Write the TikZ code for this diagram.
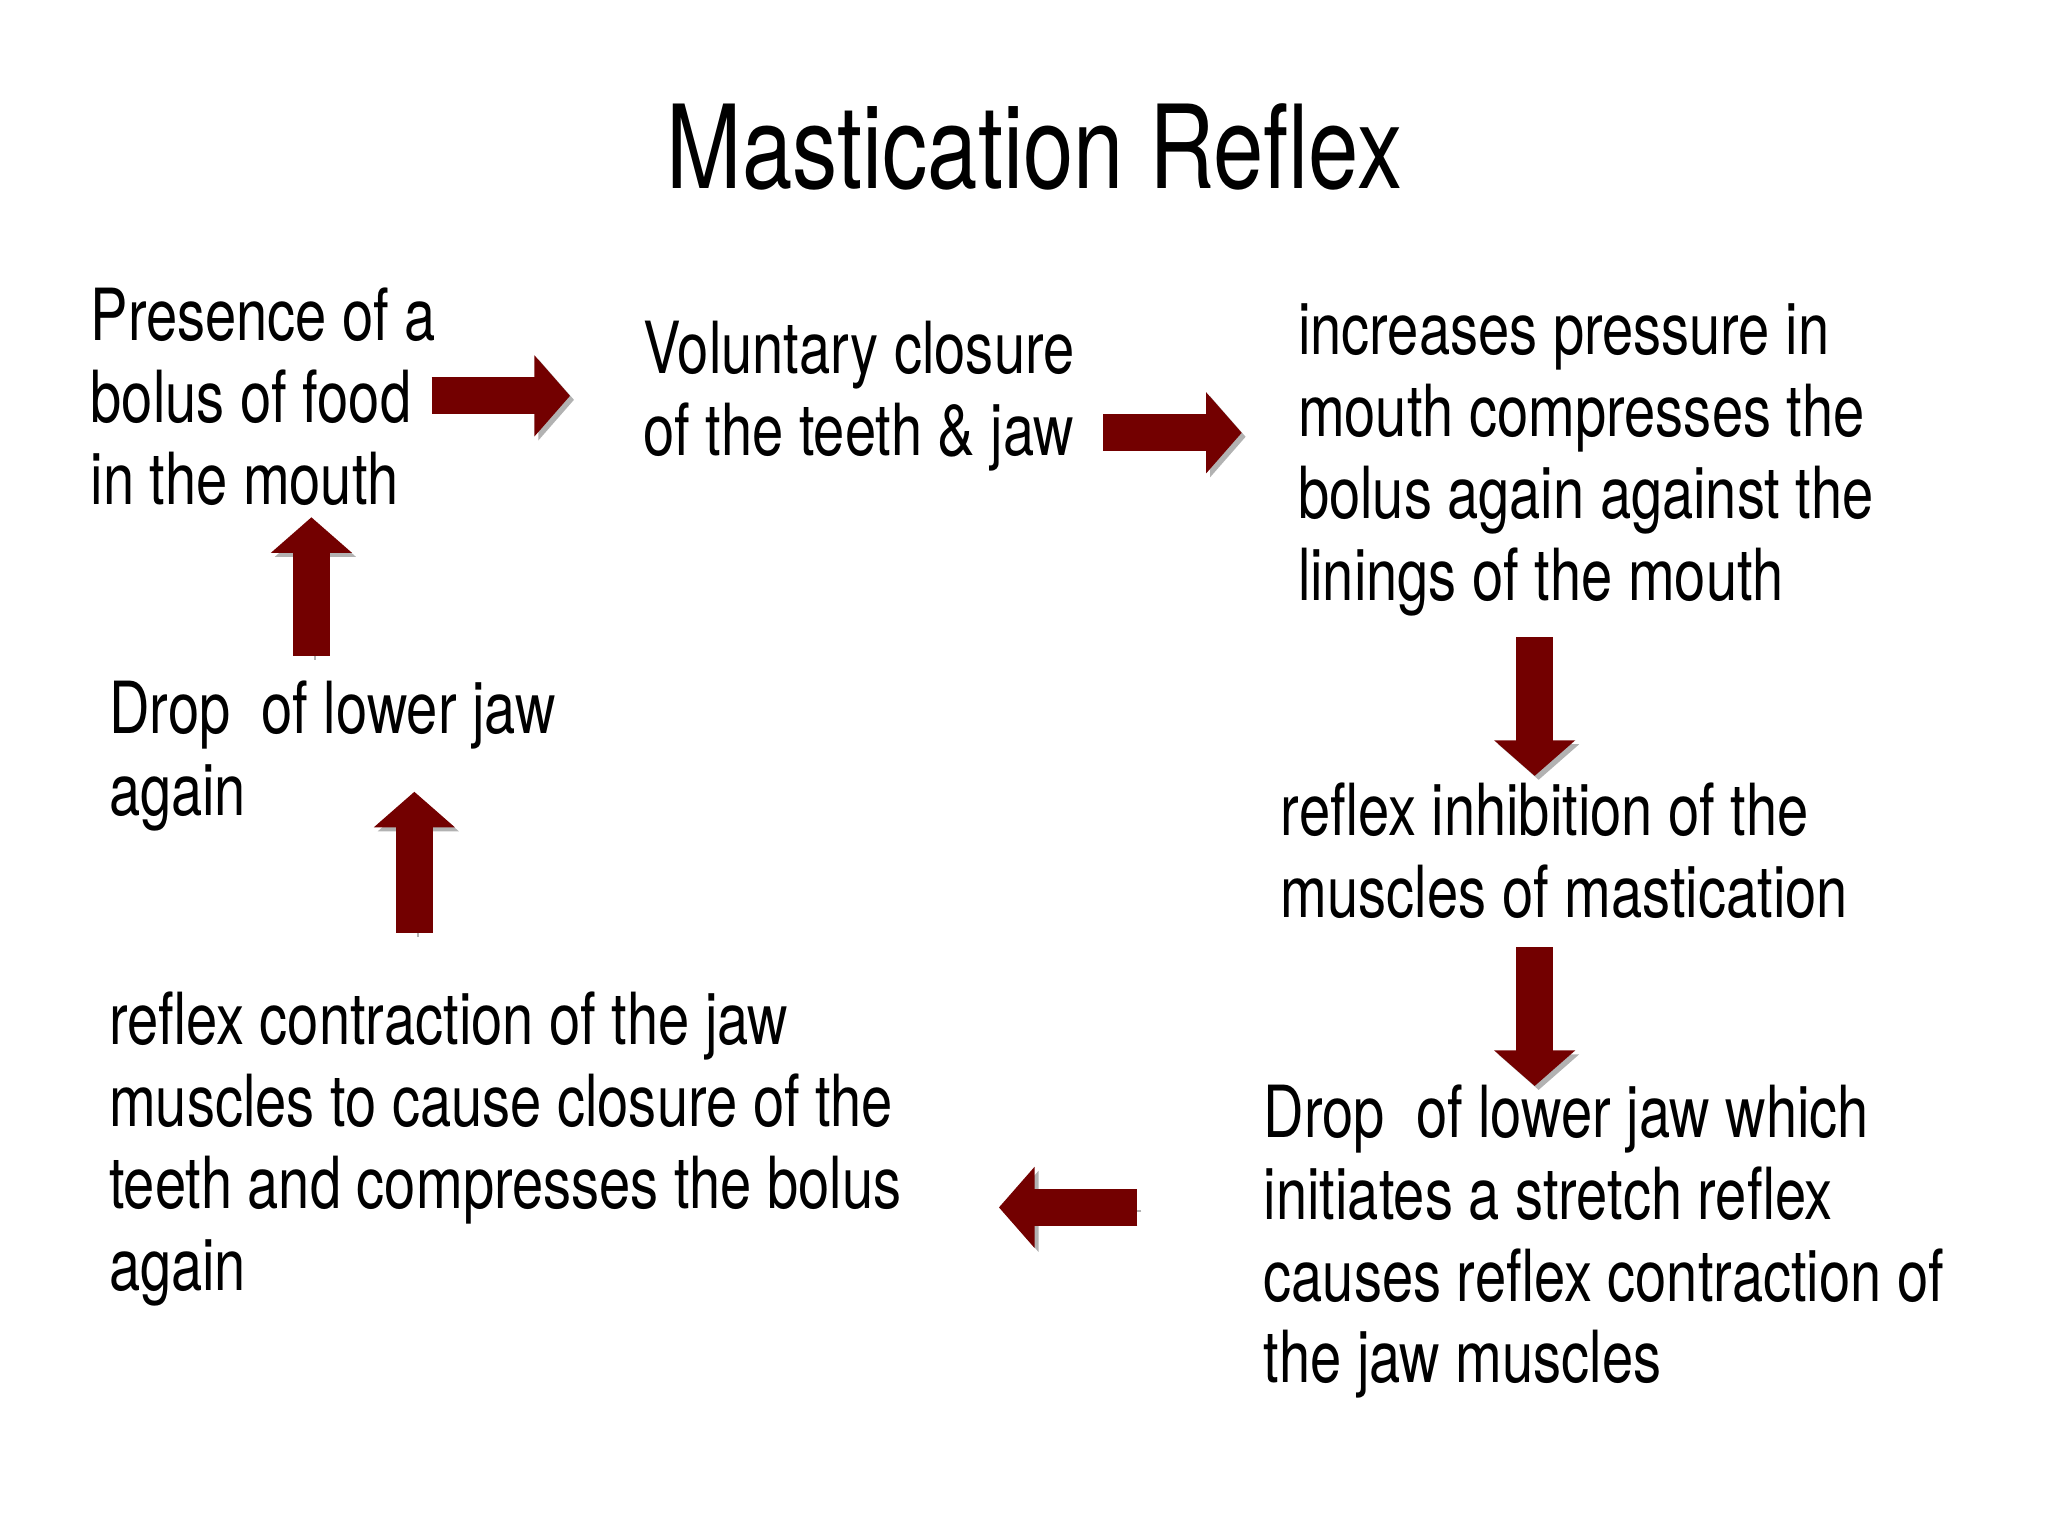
\documentclass[tikz,border=0pt]{standalone}
\usepackage{fontspec}
\setmainfont{TeX Gyre Heros}[FakeStretch=0.78]
\usetikzlibrary{arrows.meta,positioning}
\tikzstyle{txt} = [anchor=base west, inner sep=0pt, align=left, font=\fontsize{15.5}{17.65}\selectfont]
\tikzstyle{blk} = [draw=red!45!black, line width=0.28cm, -{Triangle[length=0.27cm,width=0.6cm]},
  preaction={draw=black!30, transform canvas={shift={(0.03,-0.03)}}}]

\begin{document}
\begin{tikzpicture}[x=1cm,y=1cm]
	\useasboundingbox (0,0) rectangle (15.52,-11.64);
	\node [anchor=base, inner sep=0pt, font=\fontsize{25}{30}\selectfont] (title) at (7.84,-1.43) {Mastication Reflex};

	% nodes placed by the baseline of their last line
	\node [txt] (bolus) at (0.68,-3.82) {Presence of a\\bolus of food\\in the mouth};
	\node [txt] (closure) at (4.87,-3.45) {Voluntary closure\\of the teeth \& jaw};
	\node [txt] (pressure) at (9.83,-4.55) {increases pressure in\\mouth compresses the\\bolus again against the\\linings of the mouth};
	\node [txt] (inhib) at (9.70,-6.95) {reflex inhibition of the\\muscles of mastication};
	\node [txt] (stretch) at (9.57,-10.48) {Drop\ \ of lower jaw which\\initiates a stretch reflex\\causes reflex contraction of\\the jaw muscles};
	\node [txt] (contract) at (0.82,-9.78) {reflex contraction of the jaw\\muscles to cause closure of the\\teeth and compresses the bolus\\again};
	\node [txt] (drop) at (0.82,-6.18) {Drop\ \ of lower jaw\\again};

	% arrow ends
	\coordinate (a1s) at (3.27,-3.00); \coordinate (a1e) at (4.32,-3.00);
	\coordinate (a2s) at (8.36,-3.28); \coordinate (a2e) at (9.41,-3.28);
	\coordinate (a3s) at (11.63,-4.83); \coordinate (a3e) at (11.63,-5.88);
	\coordinate (a4s) at (11.63,-7.18); \coordinate (a4e) at (11.63,-8.23);
	\coordinate (a5s) at (8.62,-9.15); \coordinate (a5e) at (7.57,-9.15);
	\coordinate (a6s) at (3.14,-7.07); \coordinate (a6e) at (3.14,-6.00);
	\coordinate (a7s) at (2.36,-4.97); \coordinate (a7e) at (2.36,-3.92);

	\path [blk] (a1s) -- (a1e);
	\path [blk] (a2s) -- (a2e);
	\path [blk] (a3s) -- (a3e);
	\path [blk] (a4s) -- (a4e);
	\path [blk] (a5s) -- (a5e);
	\path [blk] (a6s) -- (a6e);
	\path [blk] (a7s) -- (a7e);
\end{tikzpicture}
\end{document}
